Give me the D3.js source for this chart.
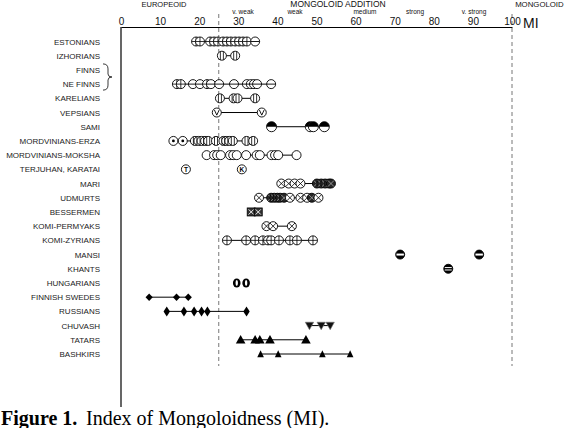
<!DOCTYPE html>
<html>
<head>
<meta charset="utf-8">
<script src="https://cdn.jsdelivr.net/npm/d3@7"></script>
<style>
html, body { margin: 0; padding: 0; background: #fff; }
svg { display: block; }
</style>
</head>
<body>
<div id="chart"></div>
<script>
//---------------------------DATA--------------------------------------------------------
// groups, top to bottom
const groups = ["ESTONIANS", "IZHORIANS", "FINNS", "NE FINNS", "KARELIANS", "VEPSIANS", "SAMI",
    "MORDVINIANS-ERZA", "MORDVINIANS-MOKSHA", "TERJUHAN, KARATAI", "MARI", "UDMURTS", "BESSERMEN",
    "KOMI-PERMYAKS", "KOMI-ZYRIANS", "MANSI", "KHANTS", "HUNGARIANS", "FINNISH SWEDES", "RUSSIANS",
    "CHUVASH", "TATARS", "BASHKIRS"];

// MI values
const estonians = [19.2, 20.2, 22.8, 23.8, 24.8, 26.1, 27.1, 28.1, 29.2, 30.2, 31.2, 32.2, 34.3];
const izhorians = [25.8, 29.2];
const finns = [];
const neFinns = [14.3, 15.3, 18.4, 20.2, 22.0, 23.0, 25.1, 28.9, 32.2, 33.2, 34.0, 34.8, 38.4];
const karelians = [25.3, 28.8, 29.8, 34.3];
const vepsians = [24.5, 36.0];
const sami = [38.5, 48.4, 49.2, 52.0];
const erza = [13.4, 15.8, 18.9, 19.8, 20.6, 21.5, 22.3, 24.3, 26.2, 26.9, 27.7, 28.6, 32.1, 33.8];
const moksha = [21.9, 23.8, 24.6, 25.5, 27.9, 28.7, 29.6, 32.0, 34.7, 35.5, 38.5, 39.4, 40.2, 44.9];
const terjuhanKaratai = [16.6, 30.9];
const mari = [41.0, 42.9, 44.4, 45.9, 50.1, 51.2, 52.2, 53.2, 53.7];
const udmurts = [35.3, 38.4, 39.2, 40.0, 40.7, 41.7, 43.2, 45.9, 47.6, 48.8, 50.5];
const bessermen = [33.3, 35.1];
const komiPermyaks = [37.2, 38.9, 43.7];
const komiZyrians = [27.1, 32.0, 34.3, 36.3, 37.6, 38.4, 40.4, 43.2, 45.0, 49.1];
const mansi = [71.4, 91.6];
const khants = [83.7];
const hungarians = [29.6, 32.0];
const finnishSwedes = [7.2, 14.2, 17.2];
const russians = [11.7, 16.1, 18.7, 20.6, 22.1, 32.1];
const chuvash = [48.2, 51.2, 53.5];
const tatars = [30.6, 34.3, 35.5, 38.1, 47.3];
const bashkirs = [35.7, 40.2, 51.5, 58.6];

const series = [estonians, izhorians, finns, neFinns, karelians, vepsians, sami, erza, moksha,
    terjuhanKaratai, mari, udmurts, bessermen, komiPermyaks, komiZyrians, mansi, khants,
    hungarians, finnishSwedes, russians, chuvash, tatars, bashkirs];

// axis ticks and headings
const tickValues = [0, 10, 20, 30, 40, 50, 60, 70, 80, 90, 100];
const zoneLabels = ["EUROPEOID", "MONGOLOID ADDITION", "MONGOLOID"];
const zoneAt = [11, 55.5, 100.8];        // MI where each heading sits
const levelLabels = ["v. weak", "weak", "medium", "strong", "v. strong"];
const levelAt = [31.2, 44.5, 62.4, 75.2, 90.3];
const boundaries = [25, 100];

//---------------------------STYLE--------------------------------------------------------
// marker per group (style only)
const markers = {
    "ESTONIANS": { shape: "circle", inner: "plus", innerAt: { 12: "minus" } },
    "IZHORIANS": { shape: "circle", inner: "vbars" },
    "NE FINNS": { shape: "circle", inner: "minus", innerAt: { 0: "plus", 1: "plus", 4: "plus" } },
    "KARELIANS": { shape: "circle", inner: "vbars" },
    "VEPSIANS": { shape: "circle", inner: "v" },
    "SAMI": { shape: "circle", inner: "halftop", r: 5 },
    "MORDVINIANS-ERZA": { shape: "circle", inner: "vbars", innerAt: { 0: "dot", 1: "dot" } },
    "MORDVINIANS-MOKSHA": { shape: "circle", inner: "none" },
    "TERJUHAN, KARATAI": { shape: "circle", inner: "letter", letters: ["T", "K"], link: false },
    "MARI": { shape: "circle", inner: "x", dark: [4, 5, 6, 7, 8] },
    "UDMURTS": { shape: "circle", inner: "x", dark: [1, 2, 3, 4, 5, 9] },
    "BESSERMEN": { shape: "square" },
    "KOMI-PERMYAKS": { shape: "circle", inner: "x" },
    "KOMI-ZYRIANS": { shape: "circle", inner: "plus" },
    "MANSI": { shape: "circle", inner: "bar", link: false },
    "KHANTS": { shape: "circle", inner: "dbar" },
    "HUNGARIANS": { shape: "boldO", link: false },
    "FINNISH SWEDES": { shape: "diamond", w: 3.6, h: 3.8 },
    "RUSSIANS": { shape: "diamond", w: 3.2, h: 5 },
    "CHUVASH": { shape: "down", w: 4.2, h: 7.5 },
    "TATARS": { shape: "up", w: 4.8, h: 8.5 },
    "BASHKIRS": { shape: "up", w: 3.3, h: 7 }
};

//---------------------------CHART--------------------------------------------------------
const W = 565, H = 428;

const svg = d3.select("#chart")
    .append("svg")
    .attr("width", W)
    .attr("height", H)
    .style("font-family", "'Liberation Sans', Arial, sans-serif");

const x = d3.scaleLinear().domain([0, 100]).range([121, 512]);
const y = d3.scalePoint().domain(groups).range([41.5, 354]);
const axisY = 27;

// dashed zone boundaries
svg.selectAll("line.bound")
    .data(boundaries)
    .enter().append("line")
    .attr("x1", d => x(d)).attr("x2", d => x(d))
    .attr("y1", 14).attr("y2", 366)
    .attr("stroke", "#777")
    .attr("stroke-width", 1)
    .attr("stroke-dasharray", "4,3");

// top axis
const axis = d3.axisTop(x)
    .tickValues(tickValues)
    .tickSize(0)
    .tickSizeOuter(0)
    .tickPadding(2);

const ax = svg.append("g")
    .attr("transform", `translate(0,${axisY})`)
    .call(axis);
ax.select(".domain").attr("stroke", "#000").attr("stroke-width", 1.2);
ax.selectAll("text")
    .attr("font-size", 10)
    .attr("font-family", "'Liberation Sans', Arial, sans-serif")
    .attr("fill", "#111");

// vertical axis line
svg.append("line")
    .attr("x1", x(0)).attr("x2", x(0))
    .attr("y1", axisY).attr("y2", 407)
    .attr("stroke", "#000")
    .attr("stroke-width", 1.2);

svg.append("text")
    .attr("x", 523).attr("y", 28)
    .attr("font-size", 14)
    .attr("fill", "#111")
    .text("MI");

// headings
svg.selectAll("text.zone")
    .data(zoneLabels)
    .enter().append("text")
    .attr("x", (d, i) => x(zoneAt[i]))
    .attr("y", 7)
    .attr("text-anchor", (d, i) => i === 2 ? "start" : "middle")
    .attr("font-size", (d, i) => i === 0 ? 7.5 : i === 1 ? 8.5 : 7.8)
    .attr("fill", "#111")
    .text(d => d);

svg.selectAll("text.level")
    .data(levelLabels)
    .enter().append("text")
    .attr("x", (d, i) => x(levelAt[i]))
    .attr("y", 13.5)
    .attr("text-anchor", "middle")
    .attr("font-size", 6.5)
    .attr("fill", "#111")
    .text(d => d);

// group labels
svg.selectAll("text.group")
    .data(groups)
    .enter().append("text")
    .attr("x", 100)
    .attr("y", d => y(d) + 3)
    .attr("text-anchor", "end")
    .attr("font-size", 8)
    .attr("fill", "#222")
    .text(d => d);

// brace joining FINNS and NE FINNS
const by0 = y("FINNS") - 6, by1 = y("NE FINNS") + 6, bym = (by0 + by1) / 2;
svg.append("path")
    .attr("d", `M103,${by0} Q108,${by0} 108,${by0 + 5} L108,${bym - 3} Q108,${bym} 112,${bym}`
        + ` Q108,${bym} 108,${bym + 3} L108,${by1 - 5} Q108,${by1} 103,${by1}`)
    .attr("fill", "none")
    .attr("stroke", "#222")
    .attr("stroke-width", 0.9);

// connecting lines
groups.forEach((g, i) => {
    const vals = series[i];
    const m = markers[g];
    if (!m || vals.length < 2 || m.link === false) return;
    svg.append("line")
        .attr("x1", x(d3.min(vals))).attr("x2", x(d3.max(vals)))
        .attr("y1", y(g)).attr("y2", y(g))
        .attr("stroke", "#000")
        .attr("stroke-width", 1);
});

function drawInner(el, type, r, dark, letter) {
    const ink = dark ? "#aaa" : "#000";
    if (type === "plus") {
        el.append("path").attr("d", `M${-r},0H${r}M0,${-r}V${r}`).attr("stroke", ink).attr("stroke-width", 0.8);
    } else if (type === "minus") {
        el.append("path").attr("d", `M${-r},0H${r}`).attr("stroke", ink).attr("stroke-width", 0.9);
    } else if (type === "vbars") {
        const h = Math.sqrt(r * r - 2.25);
        el.append("path").attr("d", `M-1.5,${-h}V${h}M1.5,${-h}V${h}`).attr("stroke", ink).attr("stroke-width", 0.8);
    } else if (type === "x") {
        const d = r * 0.7;
        el.append("path").attr("d", `M${-d},${-d}L${d},${d}M${-d},${d}L${d},${-d}`).attr("stroke", ink).attr("stroke-width", 0.8);
    } else if (type === "dot") {
        el.append("circle").attr("r", 1.4).attr("fill", "#000");
    } else if (type === "v") {
        el.append("path").attr("d", "M-2.4,-2.6L0,2.6L2.4,-2.6").attr("fill", "none").attr("stroke", "#000").attr("stroke-width", 0.9);
    } else if (type === "halftop") {
        el.append("path").attr("d", `M${-r},0A${r},${r} 0 0 1 ${r},0Z`).attr("fill", "#000");
    } else if (type === "letter") {
        el.append("text").attr("y", 2.3).attr("text-anchor", "middle")
            .attr("font-size", 6.5).attr("font-weight", "bold").attr("fill", "#000").text(letter);
    } else if (type === "bar") {
        el.append("rect").attr("x", -r + 0.8).attr("y", -1).attr("width", 2 * r - 1.6).attr("height", 2).attr("fill", "#fff");
    } else if (type === "dbar") {
        el.append("path").attr("d", `M${-r + 1},-1.2H${r - 1}M${-r + 1},1.2H${r - 1}`).attr("stroke", "#fff").attr("stroke-width", 1);
    }
}

// markers
groups.forEach((g, gi) => {
    const vals = series[gi];
    const m = markers[g];
    if (!m) return;
    vals.forEach((v, i) => {
        const el = svg.append("g").attr("transform", `translate(${x(v)},${y(g)})`);
        if (m.shape === "circle") {
            const r = m.r || 4.5;
            const dark = m.dark ? m.dark.includes(i) : false;
            const solid = m.inner === "bar" || m.inner === "dbar";
            el.append("circle")
                .attr("r", r)
                .attr("fill", solid ? "#000" : dark ? "#262626" : "#fff")
                .attr("stroke", "#000")
                .attr("stroke-width", 0.9);
            const inner = (m.innerAt && m.innerAt[i]) || m.inner;
            drawInner(el, inner, r, dark, m.letters ? m.letters[i] : "");
        } else if (m.shape === "square") {
            el.append("rect").attr("x", -4).attr("y", -4).attr("width", 8).attr("height", 8)
                .attr("fill", "#333").attr("stroke", "#000").attr("stroke-width", 0.8);
            el.append("path").attr("d", "M-2.6,-2.6L2.6,2.6M-2.6,2.6L2.6,-2.6")
                .attr("stroke", "#fff").attr("stroke-width", 0.9);
        } else if (m.shape === "boldO") {
            el.append("ellipse").attr("rx", 3.8).attr("ry", 4.6).attr("fill", "#000");
            el.append("ellipse").attr("rx", 1.2).attr("ry", 3).attr("fill", "#fff");
        } else if (m.shape === "diamond") {
            el.append("path").attr("d", `M0,${-m.h}L${m.w},0L0,${m.h}L${-m.w},0Z`).attr("fill", "#000");
        } else if (m.shape === "up") {
            el.append("path").attr("d", `M0,${-m.h * 0.55}L${m.w},${m.h * 0.45}L${-m.w},${m.h * 0.45}Z`).attr("fill", "#000");
        } else if (m.shape === "down") {
            el.append("path").attr("d", `M0,${m.h * 0.55}L${m.w},${-m.h * 0.45}L${-m.w},${-m.h * 0.45}Z`)
                .attr("fill", "#111").attr("stroke", "#777").attr("stroke-width", 0.6);
        }
    });
});

// caption
const cap = svg.append("g")
    .attr("font-family", "'Liberation Serif', 'Times New Roman', serif")
    .attr("font-size", 20)
    .attr("fill", "#000");
cap.append("text").attr("x", 1).attr("y", 424.5).attr("font-weight", "bold").text("Figure 1.");
cap.append("text").attr("x", 86).attr("y", 424.5).text("Index of Mongoloidness (MI).");
</script>
</body>
</html>
